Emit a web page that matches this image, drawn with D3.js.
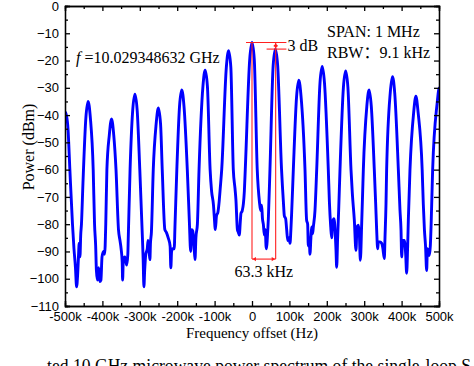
<!DOCTYPE html>
<html>
<head>
<meta charset="utf-8">
<script src="https://cdn.jsdelivr.net/npm/d3@7"></script>
<style>
  body { margin: 0; background: #fff; overflow: hidden; }
  svg { display: block; font-family: "Liberation Serif", "Times New Roman", serif; }
  .axis text { font-size: 13px; fill: #000; }
  .axis line, .axis path { stroke: #000; stroke-width: 1.3; }
</style>
</head>
<body>
<div id="chart"></div>
<script>
// peak of each comb line (kHz, dBm)
var peakFreqs = [-498, -438.2, -375.6, -313.0, -250.4, -187.8, -125.2, -62.6, 0, 62.6, 125.2, 187.8, 250.4, 313.0, 375.6, 438.2, 500.8];
var peakLevels = [-39, -35, -41.4, -32.3, -37.4, -30.8, -23.5, -16.4, -13.4, -15.8, -27.2, -22.2, -23.8, -30.8, -25.9, -33.1, -30];

// rounded shoulders either side of each peak (kHz, dBm)
var shoulders = [
  [[-504,-45],[-492,-45]],
  [[-444.2,-41],[-432.2,-41]],
  [[-381.6,-47.4],[-369.6,-47.4]],
  [[-319,-38.3],[-307,-38.3]],
  [[-256.4,-43.4],[-244.4,-43.4]],
  [[-193.8,-36.8],[-181.8,-36.8]],
  [[-131.2,-29.5],[-119.2,-29.5]],
  [[-68.6,-22.4],[-56.6,-22.4]],
  [[-6,-19.4],[6,-19.4]],
  [[56.6,-21.8],[68.6,-21.8]],
  [[119.2,-33.2],[131.2,-33.2]],
  [[181.8,-28.2],[193.8,-28.2]],
  [[244.4,-29.8],[256.4,-29.8]],
  [[307,-36.8],[319,-36.8]],
  [[369.6,-31.9],[381.6,-31.9]],
  [[432.2,-39.1],[444.2,-39.1]],
  [[494.8,-36],[506.8,-36]]
];

// noisy floor between neighbouring lines (kHz, dBm)
var troughs = [
  [[-487,-60],[-480,-80],[-476,-89],[-472,-96],[-469,-103],[-466,-98],[-464,-92],[-462,-87],[-460,-92],[-458,-84],[-456,-80],[-452,-65]],
  [[-424.6,-60],[-421,-80],[-418,-88],[-416,-97],[-413,-100.5],[-410,-96],[-407,-101],[-404,-100.5],[-401,-92],[-397,-90],[-394,-91],[-391,-80],[-388,-60]],
  [[-363.6,-60],[-357,-82],[-353,-86],[-350,-89],[-347,-94],[-346,-100.5],[-344,-93],[-340,-92],[-335,-95],[-332,-91],[-331,-86],[-326,-60]],
  [[-300,-60],[-293,-85],[-291,-93],[-289,-103],[-287,-97],[-284,-91],[-280,-89],[-278,-86],[-275,-90],[-273,-93],[-271.5,-87],[-269,-83],[-264,-60]],
  [[-240,-60],[-233,-82],[-229,-83],[-224,-85],[-219,-88],[-217,-96],[-215,-90],[-212,-89],[-208,-89],[-206,-81],[-201,-60]],
  [[-173,-60],[-167.5,-79],[-164,-90],[-161,-82],[-158.5,-82.5],[-155,-88],[-152.4,-93],[-150,-85],[-146,-80],[-141.6,-60]],
  [[-112,-60],[-108,-68],[-103,-73],[-101,-77],[-98,-82],[-95,-77],[-91,-75.5],[-88,-72],[-85,-67],[-81,-60]],
  [[-50,-60],[-45.4,-67],[-43,-71],[-39,-82],[-36.5,-83],[-34,-84],[-31,-78.5],[-29.5,-76],[-26,-75],[-23,-72.5],[-20.5,-68],[-18,-60]],
  [[14,-60],[20,-72],[23,-75],[25.8,-73],[28,-78],[30.3,-80],[33,-84],[35.5,-82],[37.5,-88],[39,-89],[41,-85],[43.7,-78],[48,-60]],
  [[79,-60],[84,-72],[86.5,-77],[90,-78],[92.7,-82],[95.5,-86],[99,-85],[101.6,-87],[104,-82],[106,-76],[110.5,-60]],
  [[141.7,-60],[146,-78.5],[148.8,-80],[150.6,-88],[153,-85],[155,-91],[157.5,-85],[159.5,-81],[162,-83.5],[164,-81],[168.4,-75],[173,-60]],
  [[204,-60],[207,-72],[210.5,-81],[213,-85],[215.7,-79],[219.3,-78],[222.8,-84],[224.6,-89.5],[226.4,-95.8],[229,-85],[231.7,-75],[235.3,-60]],
  [[264.7,-60],[268.3,-68.8],[273.6,-78.5],[278,-89.6],[280.8,-81],[284.3,-80.4],[287,-83.5],[289.7,-93.2],[293.3,-79.7],[296,-67.6],[297.7,-60]],
  [[327,-60],[330.7,-72.5],[333.3,-82],[336,-89],[337.8,-86.5],[342.2,-86.5],[346.7,-87],[349.4,-88.4],[353.8,-92.6],[355.6,-85],[358.3,-72.5],[360,-60]],
  [[391.3,-60],[395.7,-74.9],[398.4,-82],[400.2,-92],[402.8,-86],[407.3,-86],[410.9,-91],[413.5,-98],[416.2,-88],[418,-78.5],[422.4,-60]],
  [[455,-60],[458,-72.5],[461,-82],[464,-88],[467,-97],[469,-89],[471.5,-90],[474,-91.5],[476.8,-88],[479,-80],[483,-60]]
];

var xTicks = [-500, -400, -300, -200, -100, 0, 100, 200, 300, 400, 500];
var xMinor = [-450, -350, -250, -150, -50, 50, 150, 250, 350, 450];
var yTicks = [0, -10, -20, -30, -40, -50, -60, -70, -80, -90, -100, -110];
var yMinor = [-5, -15, -25, -35, -45, -55, -65, -75, -85, -95, -105];

var width = 474, height = 366,
    margin = { top: 6, right: 35, bottom: 60, left: 65 };

var svg = d3.select("#chart").append("svg")
    .attr("width", width)
    .attr("height", height);

var x = d3.scaleLinear().domain([-500, 500]).range([margin.left, width - margin.right]);
var y = d3.scaleLinear().domain([-110, 0]).range([height - margin.bottom, margin.top]);

// join shoulders, peaks and floors into one trace
var trace = [];
peakFreqs.forEach(function (f, i) {
    trace.push(shoulders[i][0], [f, peakLevels[i]], shoulders[i][1]);
    if (troughs[i]) trace = trace.concat(troughs[i]);
});

svg.append("clipPath").attr("id", "plot-clip")
  .append("rect")
    .attr("x", x(-500)).attr("y", y(0))
    .attr("width", x(500) - x(-500)).attr("height", y(-110) - y(0));

var line = d3.line()
    .x(function (d) { return x(d[0]); })
    .y(function (d) { return y(d[1]); })
    .curve(d3.curveMonotoneX);

svg.append("path")
    .datum(trace)
    .attr("clip-path", "url(#plot-clip)")
    .attr("fill", "none")
    .attr("stroke", "#0000ff")
    .attr("stroke-width", 2.9)
    .attr("stroke-linejoin", "round")
    .attr("d", line);

// axes, ticks pointing inward on all four sides
var fmt = function (d) { return d === 0 ? "0" : d + "k"; };
svg.append("g").attr("class", "axis")
    .attr("transform", "translate(0," + y(-110) + ")")
    .call(d3.axisBottom(x).tickValues(xTicks).tickSize(-5).tickPadding(6).tickFormat(fmt));
svg.append("g").attr("class", "axis")
    .attr("transform", "translate(0," + y(-110) + ")")
    .call(d3.axisBottom(x).tickValues(xMinor).tickSize(-3).tickFormat(""));
svg.append("g").attr("class", "axis")
    .attr("transform", "translate(0," + y(0) + ")")
    .call(d3.axisTop(x).tickValues(xTicks).tickSize(-5).tickFormat(""));
svg.append("g").attr("class", "axis")
    .attr("transform", "translate(0," + y(0) + ")")
    .call(d3.axisTop(x).tickValues(xMinor).tickSize(-3).tickFormat(""));
svg.append("g").attr("class", "axis")
    .attr("transform", "translate(" + x(-500) + ",0)")
    .call(d3.axisLeft(y).tickValues(yTicks).tickSize(-5).tickPadding(6));
svg.append("g").attr("class", "axis")
    .attr("transform", "translate(" + x(-500) + ",0)")
    .call(d3.axisLeft(y).tickValues(yMinor).tickSize(-3).tickFormat(""));
svg.append("g").attr("class", "axis")
    .attr("transform", "translate(" + x(500) + ",0)")
    .call(d3.axisRight(y).tickValues(yTicks).tickSize(-5).tickFormat(""));
svg.append("g").attr("class", "axis")
    .attr("transform", "translate(" + x(500) + ",0)")
    .call(d3.axisRight(y).tickValues(yMinor).tickSize(-3).tickFormat(""));

svg.append("text")
    .attr("transform", "translate(34,147) rotate(-90)")
    .attr("text-anchor", "middle")
    .style("font-size", "16px")
    .text("Power (dBm)");
svg.append("text")
    .attr("x", x(0)).attr("y", 338)
    .attr("text-anchor", "middle")
    .style("font-size", "15px")
    .text("Frequency offset (Hz)");

// red markers: 3 dB difference and 63.3 kHz spacing
var red = "#ff2020";
var ann = svg.append("g").attr("stroke", red).attr("stroke-width", 1.1).attr("fill", "none");
ann.append("line").attr("x1", x(-16)).attr("x2", x(92)).attr("y1", y(-13.4)).attr("y2", y(-13.4));
ann.append("line").attr("x1", x(39)).attr("x2", x(92)).attr("y1", y(-15.8)).attr("y2", y(-15.8));
ann.append("line").attr("x1", x(0)).attr("x2", x(0)).attr("y1", y(-13.4)).attr("y2", y(-92.8));
ann.append("line").attr("x1", x(63.3)).attr("x2", x(63.3)).attr("y1", y(-13.4)).attr("y2", y(-92.8));
ann.append("line").attr("x1", x(0)).attr("x2", x(63.3)).attr("y1", y(-92.8)).attr("y2", y(-92.8));

var arrows = svg.append("g").attr("fill", red);
function arrowHead(px, py, dir) {
    var s = 3.5, w = 2.2, p;
    if (dir === "l") p = [[px, py], [px + s, py - w], [px + s, py + w]];
    if (dir === "r") p = [[px, py], [px - s, py - w], [px - s, py + w]];
    if (dir === "u") p = [[px, py], [px - w, py + s], [px + w, py + s]];
    if (dir === "d") p = [[px, py], [px - w, py - s], [px + w, py - s]];
    arrows.append("path").attr("d", "M" + p.join("L") + "Z");
}
arrowHead(x(0) + 0.5, y(-92.8), "l");
arrowHead(x(63.3) - 0.5, y(-92.8), "r");
arrowHead(x(63.3), y(-13.4) + 0.5, "u");
arrowHead(x(63.3), y(-15.8) - 0.5, "d");

svg.append("text").attr("x", x(95)).attr("y", 51)
    .style("font-size", "16px").text("3 dB");
svg.append("text").attr("x", x(31.6)).attr("y", 277)
    .attr("text-anchor", "middle")
    .style("font-size", "16px").text("63.3 kHz");

var fText = svg.append("text").attr("x", 76).attr("y", 63).style("font-size", "16px");
fText.append("tspan").style("font-style", "italic").text("f");
fText.append("tspan").text(" =10.029348632 GHz");

svg.append("text").attr("x", 327).attr("y", 37).style("font-size", "16px").text("SPAN: 1 MHz");
var rbw = svg.append("text").attr("x", 327).attr("y", 58).style("font-size", "16px");
rbw.append("tspan").text("RBW");
rbw.append("tspan").style("font-family", "'Noto Sans CJK SC'").text("：");
rbw.append("tspan").text("9.1 kHz");

// caption of the source figure, cut by the bottom edge
svg.append("text").attr("x", 47).attr("y", 372)
    .style("font-size", "19px")
    .attr("textLength", 424)
    .attr("lengthAdjust", "spacingAndGlyphs")
    .text("ted 10 GHz microwave power spectrum of the single-loop S");
</script>
</body>
</html>
